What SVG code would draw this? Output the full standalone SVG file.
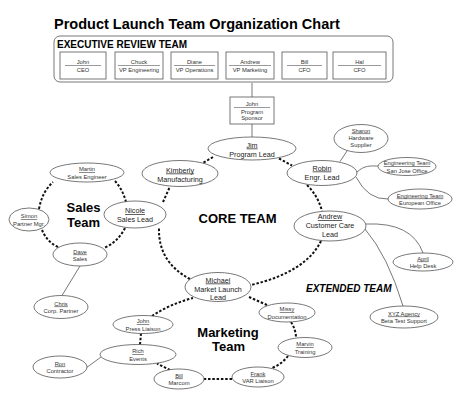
<svg xmlns="http://www.w3.org/2000/svg" width="474" height="415" viewBox="0 0 474 415">
<style>
text{font-family:"Liberation Sans",Arial,sans-serif;fill:#222;text-anchor:middle}
.t{font-size:14.5px;font-weight:bold;fill:#000;text-anchor:start}
.h{font-size:10px;font-weight:bold;fill:#000;text-anchor:start}
.big{font-size:13px;font-weight:bold;fill:#000}
.ext{font-size:10px;font-weight:bold;font-style:italic;fill:#000;text-anchor:start}
.s{font-size:5.8px;fill:#333}
.m{font-size:7.2px;fill:#222}
.u{text-decoration:underline}
.box{fill:#fff;stroke:#555;stroke-width:0.8}
.ell{fill:#fff;stroke:#555;stroke-width:0.8}
.sep{stroke:#555;stroke-width:0.6}
.sol{fill:none;stroke:#555;stroke-width:0.8}
.dash{fill:none;stroke:#111;stroke-width:2;stroke-dasharray:2.5 1.8}
</style>
<rect width="474" height="415" fill="#fff"/>
<text class="t" x="54" y="29">Product Launch Team Organization Chart</text>

<g id="connectors">
<path class="sol" d="M252 83 V97"/>
<path class="sol" d="M252 124 V137"/>
<path class="sol" d="M347 151 L340 161.5"/>
<path class="sol" d="M357 172 C365 165 370 166 378 166"/>
<path class="sol" d="M356 177 Q368 200 388 199"/>
<path class="sol" d="M366 224 Q412 222 423 253"/>
<path class="sol" d="M365 229 Q388 256 403 306"/>
<path class="sol" d="M80 266 L62 295.5"/>
<path class="sol" d="M101 357 L86 368"/>
<path class="dash" d="M213 157 L203 163"/>
<path class="dash" d="M279 158.5 L292 165.5"/>
<path class="dash" d="M307 185 Q318 196 322 211"/>
<path class="dash" d="M321 241 Q306 272 251 285"/>
<path class="dash" d="M190 279 Q158 262 159 228"/>
<path class="dash" d="M163 202 L170 186.5"/>
<path class="dash" d="M115 181 Q123 190 126 202"/>
<path class="dash" d="M125 228 Q118 242 104 248"/>
<path class="dash" d="M58 247 Q47 242 42 230"/>
<path class="dash" d="M39 209 Q42 192 53 182"/>
<path class="dash" d="M249 297 L267 305"/>
<path class="dash" d="M291 322 Q296 330 296 338"/>
<path class="dash" d="M288 356 Q282 364 272 368"/>
<path class="dash" d="M232 379 L204 379"/>
<path class="dash" d="M170 370 L157 363.5"/>
<path class="dash" d="M140 344.5 L141 333.5"/>
<path class="dash" d="M152 316 Q170 304 193 298"/>
</g>

<g id="exec-team">
<rect class="box" x="54" y="36" width="339" height="46" rx="6"/>
<text class="h" x="57" y="47.7">EXECUTIVE REVIEW TEAM</text>
</g>
<g id="exec-john"><rect class="box" x="60" y="52" width="46" height="27"/><text class="s" x="83" y="63.5">John</text><line class="sep" x1="65" y1="65.5" x2="101" y2="65.5"/><text class="s" x="83" y="71.5">CEO</text></g>
<g id="exec-chuck"><rect class="box" x="115" y="52" width="48" height="27"/><text class="s" x="139" y="63.5">Chuck</text><line class="sep" x1="118" y1="65.5" x2="160" y2="65.5"/><text class="s" x="139" y="71.5">VP Engineering</text></g>
<g id="exec-diane"><rect class="box" x="171" y="52" width="47" height="27"/><text class="s" x="194.5" y="63.5">Diane</text><line class="sep" x1="174" y1="65.5" x2="215" y2="65.5"/><text class="s" x="194.5" y="71.5">VP Operations</text></g>
<g id="exec-andrew"><rect class="box" x="226" y="52" width="48" height="27"/><text class="s" x="250" y="63.5">Andrew</text><line class="sep" x1="229" y1="65.5" x2="271" y2="65.5"/><text class="s" x="250" y="71.5">VP Marketing</text></g>
<g id="exec-bill"><rect class="box" x="282" y="52" width="45" height="27"/><text class="s" x="304.5" y="63.5">Bill</text><line class="sep" x1="287" y1="65.5" x2="322" y2="65.5"/><text class="s" x="304.5" y="71.5">CFO</text></g>
<g id="exec-hal"><rect class="box" x="333" y="52" width="53" height="27"/><text class="s" x="359.5" y="63.5">Hal</text><line class="sep" x1="338" y1="65.5" x2="381" y2="65.5"/><text class="s" x="359.5" y="71.5">CFO</text></g>

<g id="sponsor"><rect class="box" x="230" y="97" width="44" height="27"/><text class="s" x="252" y="105.5">John</text><line class="sep" x1="234" y1="107.5" x2="270" y2="107.5"/><text class="s" x="252" y="113.5">Program</text><text class="s" x="252" y="119.8">Sponsor</text></g>

<g id="jim"><ellipse class="ell" cx="252" cy="148.5" rx="44" ry="11.5"/><text class="m u" x="252" y="147.5">Jim</text><text class="m" x="252" y="157">Program Lead</text></g>
<g id="kimberly"><ellipse class="ell" cx="180" cy="173.5" rx="38" ry="13"/><text class="m u" x="180" y="172.5">Kimberly</text><text class="m" x="180" y="181.5">Manufacturing</text></g>
<g id="robin"><ellipse class="ell" cx="322" cy="173" rx="35" ry="12.5"/><text class="m u" x="322" y="170.5">Robin</text><text class="m" x="322" y="179.5">Engr. Lead</text></g>
<g id="sharon"><ellipse class="ell" cx="361" cy="138.5" rx="27" ry="14"/><text class="s u" x="361" y="132.5">Sharon</text><text class="s" x="361" y="140">Hardware</text><text class="s" x="361" y="147">Supplier</text></g>
<g id="eng-sj"><ellipse class="ell" cx="407" cy="166.5" rx="29" ry="9"/><text class="s u" x="407" y="165">Engineering Team</text><text class="s" x="407" y="172.5">San Jose Office</text></g>
<g id="eng-eu"><ellipse class="ell" cx="420" cy="199" rx="32" ry="10"/><text class="s u" x="420" y="197.5">Engineering Team</text><text class="s" x="420" y="205">European Office</text></g>
<g id="andrew"><ellipse class="ell" cx="330" cy="226" rx="36" ry="15"/><text class="m u" x="330" y="219">Andrew</text><text class="m" x="330" y="228">Customer Care</text><text class="m" x="330" y="236.5">Lead</text></g>
<g id="april"><ellipse class="ell" cx="423" cy="262" rx="30" ry="9"/><text class="s u" x="423" y="260.5">April</text><text class="s" x="423" y="268">Help Desk</text></g>
<g id="xyz"><ellipse class="ell" cx="404" cy="317" rx="34" ry="11"/><text class="s u" x="404" y="315.5">XYZ Agency</text><text class="s" x="404" y="323">Beta Test Support</text></g>
<g id="michael"><ellipse class="ell" cx="218" cy="287" rx="33" ry="14.5"/><text class="m u" x="218" y="282.5">Michael</text><text class="m" x="218" y="291.5">Market Launch</text><text class="m" x="218" y="300">Lead</text></g>
<g id="missy"><ellipse class="ell" cx="287" cy="312.5" rx="28" ry="9.5"/><text class="s u" x="287" y="311">Missy</text><text class="s" x="287" y="318.5">Documentation</text></g>
<g id="marvin"><ellipse class="ell" cx="305" cy="347.5" rx="27" ry="10"/><text class="s u" x="305" y="346">Marvin</text><text class="s" x="305" y="353.5">Training</text></g>
<g id="frank"><ellipse class="ell" cx="258" cy="377" rx="26" ry="10"/><text class="s u" x="258" y="375.5">Frank</text><text class="s" x="258" y="383">VAR Liaison</text></g>
<g id="bill"><ellipse class="ell" cx="179" cy="379" rx="25" ry="10"/><text class="s u" x="179" y="377.5">Bill</text><text class="s" x="179" y="385">Marcom</text></g>
<g id="rich"><ellipse class="ell" cx="138" cy="354.5" rx="38" ry="10"/><text class="s u" x="138" y="353">Rich</text><text class="s" x="138" y="360.5">Events</text></g>
<g id="john-pl"><ellipse class="ell" cx="143" cy="324.5" rx="30" ry="9"/><text class="s u" x="143" y="323">John</text><text class="s" x="143" y="330.5">Press Liaison</text></g>
<g id="ron"><ellipse class="ell" cx="60" cy="367" rx="27" ry="11"/><text class="s u" x="60" y="365.5">Ron</text><text class="s" x="60" y="373">Contractor</text></g>
<g id="chris"><ellipse class="ell" cx="61" cy="307" rx="27" ry="11.5"/><text class="s u" x="61" y="305.5">Chris</text><text class="s" x="61" y="313">Corp. Partner</text></g>
<g id="dave"><ellipse class="ell" cx="80" cy="254.5" rx="27" ry="11.5"/><text class="s u" x="80" y="253.5">Dave</text><text class="s" x="80" y="260.8">Sales</text></g>
<g id="simon"><ellipse class="ell" cx="29" cy="219.5" rx="20" ry="11.5"/><text class="s u" x="29" y="218">Simon</text><text class="s" x="29" y="225.5">Partner Mgr.</text></g>
<g id="martin"><ellipse class="ell" cx="87" cy="172.5" rx="37" ry="9.5"/><text class="s u" x="87" y="171">Martin</text><text class="s" x="87" y="178.5">Sales Engineer</text></g>
<g id="nicole"><ellipse class="ell" cx="135" cy="214.5" rx="31" ry="13.5"/><text class="m u" x="135" y="213">Nicole</text><text class="m" x="135" y="221.5">Sales Lead</text></g>

<g id="labels">
<text class="big" x="83.5" y="211.5">Sales</text>
<text class="big" x="83.5" y="226.5">Team</text>
<text class="big" x="237.5" y="223">CORE TEAM</text>
<text class="big" x="228" y="336.5">Marketing</text>
<text class="big" x="228.5" y="350.5">Team</text>
<text class="ext" x="306" y="291.5">EXTENDED TEAM</text>
</g>
</svg>
